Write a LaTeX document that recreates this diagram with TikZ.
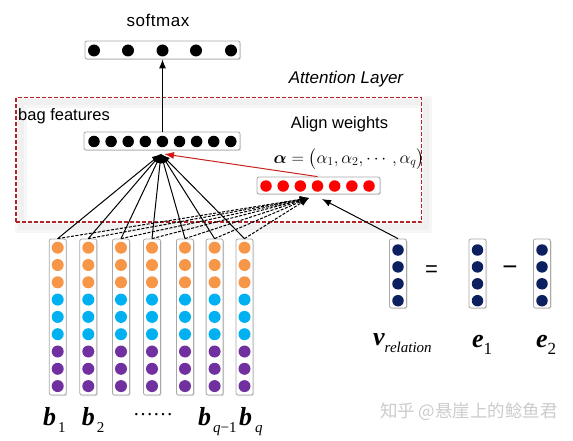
\documentclass[tikz,border=0pt]{standalone}
\usepackage{amsmath}
\usepackage{fontspec}
\setmainfont{Liberation Serif}
\setsansfont{Liberation Sans}
\newfontfamily\cjk{Noto Sans CJK SC}
\usetikzlibrary{arrows.meta,shadows}
\definecolor{dorange}{HTML}{F79646}
\definecolor{dblue}{HTML}{00B0F0}
\definecolor{dpurple}{HTML}{7030A0}
\definecolor{dnavy}{HTML}{0C1F5E}
\definecolor{dred}{HTML}{FF0000}
\definecolor{arrred}{HTML}{C8231E}
\definecolor{boxred}{HTML}{B0242A}
\definecolor{boxgray}{HTML}{A8A8A8}
\newcommand\sublbl[4]{{\fontsize{26}{26}\selectfont\bfseries\itshape #1}\kern#4\raisebox{-7pt}{\fontsize{#3}{#3}\selectfont #2}}
\begin{document}
\begin{tikzpicture}[x=1pt,y=-1pt,
  vbox/.style={draw=boxgray, fill=white, rounded corners=2pt, line width=0.8pt, inner sep=0pt,
    drop shadow={shadow xshift=1pt, shadow yshift=-1pt, opacity=0.25}},
  dot/.style={circle, inner sep=0pt, minimum size=12pt},
  conn/.style={-{Latex[length=9pt,width=7pt]}, line width=1pt},
  dconn/.style={conn, dash pattern=on 3pt off 1.5pt},
  sflabel/.style={font=\sffamily\fontsize{16.5}{16.5}\selectfont, inner sep=0pt},
  mlabel/.style={inner sep=0pt, anchor=base west},
]
\useasboundingbox (0,0) rectangle (573,441);
\fill[white] (0,0) rectangle (573,441);

% attention layer frame with soft shadow
\draw[gray!7, line width=12pt] (21,102) rectangle (426,227);
\draw[gray!12, line width=6pt] (21,102) rectangle (426,227);
\node[draw=boxred, line width=1.2pt, dash pattern=on 4pt off 2pt, inner sep=0pt,
  minimum width=405.5pt, minimum height=124.5pt] (attn) at (218.75,159.75) {};

% texts
\node[sflabel, font=\sffamily\fontsize{17}{17}\selectfont] (tsoft) at (158,20.5) {s\kern0.5pt o\kern0.5pt f\kern0.5pt t\kern0.5pt m\kern0.5pt a\kern0.5pt x};
\node[sflabel, font=\sffamily\itshape\fontsize{17}{17}\selectfont] (tattn) at (346,79.5) {Attention Layer};
\node[sflabel] (talign) at (339.5,124.5) {Align weights};
\node[sflabel, anchor=west] (tbag) at (18,116) {bag features};
\node[inner sep=0pt, font=\fontsize{18}{18}\selectfont] (teq) at (349,159)
  {$\boldsymbol{\alpha}=\bigl(\alpha_1,\alpha_2,\cdots,\alpha_q\bigr)$};

% softmax layer
\node[vbox, minimum width=155pt, minimum height=18pt] (soft) at (162.5,50) {};
\foreach \x [count=\i] in {94,128,162.5,196,231}
  \node[dot, fill=black] (s\i) at (\x,50.5) {};

% bag features
\node[vbox, minimum width=156pt, minimum height=18pt] (bag) at (162,141) {};
\foreach \i in {1,...,9}
  \node[dot, fill=black, minimum size=11.5pt] (g\i) at (94+17.1*\i-17.1,141.5) {};

% align weights
\node[vbox, minimum width=123pt, minimum height=17pt] (red) at (318.5,185.5) {};
\foreach \i in {1,...,7}
  \node[dot, fill=dred, minimum size=11.5pt] (r\i) at (266+17.17*\i-17.17,186) {};

% sentence columns
\foreach \x [count=\i] in {57.7,88.3,121,152,185,214.6,244.5} {
  \node[vbox, minimum width=17pt, minimum height=156pt] (col\i) at (\x,317) {};
  \foreach \c [count=\j] in {dorange,dorange,dorange,dblue,dblue,dblue,dpurple,dpurple,dpurple}
    \node[dot, fill=\c] (c\i-\j) at (\x,247.7+17.3*\j-17.3) {};
}

% relation vectors
\foreach \n/\x in {vrel/398,ea/477.5,eb/542} {
  \node[vbox, minimum width=17pt, minimum height=69pt] (\n) at (\x,273.5) {};
  \foreach \j in {1,...,4}
    \node[dot, fill=dnavy, minimum size=11.5pt] (\n-\j) at (\x,250+16.9*\j-16.9) {};
}
\node[inner sep=0pt, font=\sffamily\fontsize{22}{22}\selectfont] (teqs) at (431.5,271) {=};
\node[inner sep=0pt, font=\sffamily\fontsize{26}{26}\selectfont] (tminus) at (510,271) {−};

% labels
\node[mlabel] (lb1) at (43,425) {\sublbl{b}{1}{15}{2pt}};
\node[mlabel] (lb2) at (81.7,425) {\sublbl{b}{2}{15}{2pt}};
\node[inner sep=0pt, anchor=base, font=\fontsize{20}{20}\selectfont] (ldots) at (153,415) {……};
\node[mlabel] (lbq1) at (198,425) {\sublbl{b}{\itshape q\upshape −1}{15}{2pt}};
\node[mlabel] (lbq) at (239,425) {\sublbl{b}{\itshape q}{15}{3pt}};
\node[mlabel] (lv) at (373,345) {\sublbl{v}{\itshape relation}{15}{0pt}};
\node[mlabel] (le1) at (472,347) {\sublbl{e}{1}{17}{0pt}};
\node[mlabel] (le2) at (536,347) {\sublbl{e}{2}{17}{0pt}};

% connectors
\draw[conn] (bag.north -| s3) -- (soft.south -| s3);
\coordinate (bagin) at (161,154);
\coordinate (bagin2) at (164,154);
\coordinate (redin) at (309,198);
\coordinate (redin2) at (322,199);
\foreach \i in {1,...,7} {
  \draw[dconn] (col\i.north) -- (redin);
  \draw[conn] (col\i.north) -- (bagin);
}
\draw[conn, draw=arrred, -{Latex[length=10pt,width=7pt,fill=dred]}] (red.north -| r4) -- (bagin2);
\draw[conn] (vrel.north) -- (redin2);

% watermark
\node[inner sep=0pt, text=gray!40, font=\cjk\fontsize{17.5}{17.5}\selectfont] (wm) at (469,412) {知乎 @悬崖上的鲶鱼君};
\end{tikzpicture}
\end{document}
